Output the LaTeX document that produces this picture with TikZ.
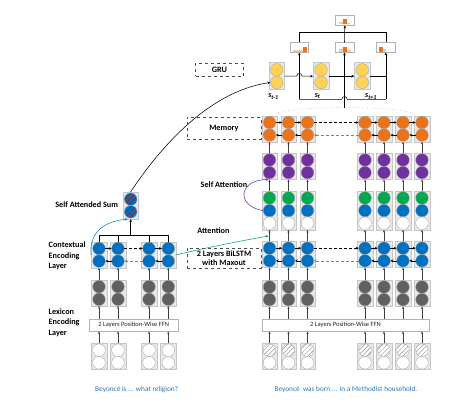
\documentclass[tikz,border=0pt]{standalone}
\usepackage{fontspec}
\setmainfont{Carlito}
\usetikzlibrary{arrows.meta,patterns.meta,positioning}

\definecolor{orng}{RGB}{235,115,25}
\definecolor{orngl}{RGB}{248,196,160}
\definecolor{purp}{RGB}{112,48,160}
\definecolor{grn}{RGB}{0,168,80}
\definecolor{blu}{RGB}{0,112,192}
\definecolor{dgry}{RGB}{96,96,96}
\definecolor{ylw}{RGB}{255,210,85}
\definecolor{txtblue}{RGB}{46,117,182}

\tikzset{
  cell/.style={circle, draw=gray!75, line width=0.3pt, minimum size=12.6pt, inner sep=0pt},
  frame/.style={draw=gray!45, fill=gray!18, line width=0.4pt, minimum width=15.6pt, inner sep=0pt},
  hatchg/.style={preaction={fill=white}, pattern={Lines[angle=45,distance=3.2pt,line width=0.45pt]}, pattern color=gray!85},
  hatchs/.style={preaction={fill=blu}, pattern={Lines[angle=45,distance=3.2pt,line width=0.5pt]}, pattern color=red!75!black},
  up/.style={-{Stealth[length=2.4pt,width=2.2pt]}, draw=gray!50!black, line width=0.45pt},
  link/.style={-{Stealth[length=2.8pt,width=2.6pt]}, line width=0.55pt},
  lbl/.style={font=\bfseries\fontsize{8.2}{10.3}\selectfont, align=left, inner sep=0pt},
  tag/.style={draw=gray!60!black, dashed, line width=0.5pt, font=\bfseries\fontsize{8.2}{9}\selectfont, align=center, inner sep=0pt},
  ffn/.style={draw=gray!60, fill=white, minimum height=12.4pt, inner sep=0pt, text=gray!25!black, font=\fontsize{6.5}{7}\selectfont},
  prob/.style={draw=gray!60, fill=white, line width=0.4pt, minimum width=18.6pt, minimum height=9.8pt, inner sep=0pt},
  qtext/.style={text=txtblue, font=\fontsize{7.3}{8}\selectfont, inner sep=0pt}
}

\begin{document}
\begin{tikzpicture}[x=1pt, y=-1pt]
\useasboundingbox (0,0) rectangle (451,406);

% position-wise FFN
\node[ffn, minimum width=167pt] (rffn) at (345.5,325.2) {2 Layers Position-Wise FFN};
\node[ffn, minimum width=89pt] (qffn) at (133.7,325.2) {2 Layers Position-Wise FFN};

% passage columns
\foreach \x [count=\i] in {269.5,288.5,307.5,365,384,403,422} {
  \node[frame, minimum height=26pt] (rin-\i) at (\x,356.5) {};
  \node[frame, minimum height=26pt] (rlex-\i) at (\x,293.3) {};
  \node[frame, minimum height=26pt] (rbil-\i) at (\x,254.5) {};
  \node[frame, minimum height=38.6pt] (ratt-\i) at (\x,210.6) {};
  \node[frame, minimum height=26pt] (rsat-\i) at (\x,166.3) {};
  \node[frame, minimum height=26pt] (rmem-\i) at (\x,128.8) {};
  \node[cell, hatchg] at (\x,350.2) {};
  \node[cell, fill=white] at (\x,362.8) {};
  \node[cell, fill=dgry] at (\x,287) {};
  \node[cell, fill=dgry] at (\x,299.6) {};
  \node[cell, fill=blu] (rbilt-\i) at (\x,248.2) {};
  \node[cell, fill=blu] (rbilb-\i) at (\x,260.8) {};
  \node[cell, fill=grn] at (\x,198) {};
  \node[cell, fill=blu] (rattb-\i) at (\x,210.6) {};
  \node[cell, fill=white] at (\x,223.2) {};
  \node[cell, fill=purp] at (\x,160) {};
  \node[cell, fill=purp] at (\x,172.6) {};
  \node[cell, fill=orng] (rmemt-\i) at (\x,122.5) {};
  \node[cell, fill=orng] (rmemb-\i) at (\x,135.1) {};
  \draw[up] (rin-\i) -- (rin-\i |- rffn.south);
  \draw[up] (rin-\i |- rffn.north) -- (rlex-\i);
  \draw[up] (rlex-\i) -- (rbil-\i);
  \draw[up] (rbil-\i) -- (ratt-\i);
  \draw[up] (ratt-\i) -- (rsat-\i);
  \draw[up] (rsat-\i) -- (rmem-\i);
}

% question columns
\foreach \x [count=\i] in {99,118,149,168.3} {
  \node[frame, minimum height=26pt] (qin-\i) at (\x,356.5) {};
  \node[frame, minimum height=26pt] (qlex-\i) at (\x,293) {};
  \node[frame, minimum height=26pt] (qctx-\i) at (\x,254.8) {};
  \node[cell, fill=white] at (\x,350.2) {};
  \node[cell, fill=white] at (\x,362.8) {};
  \node[cell, fill=dgry] at (\x,286.7) {};
  \node[cell, fill=dgry] at (\x,299.3) {};
  \node[cell, fill=blu] (qctxt-\i) at (\x,248.5) {};
  \node[cell, fill=blu] (qctxb-\i) at (\x,261.1) {};
  \draw[up] (qin-\i) -- (qin-\i |- qffn.south);
  \draw[up] (qin-\i |- qffn.north) -- (qlex-\i);
  \draw[up] (qlex-\i) -- (qctx-\i);
}

% BiLSTM / memory links
\foreach \a/\b in {1/2,2/3,4/5,5/6,6/7} {
  \draw[link] (rbilt-\a) -- (rbilt-\b);
  \draw[link] (rbilb-\b) -- (rbilb-\a);
  \draw[link] (rmemt-\a) -- (rmemt-\b);
  \draw[link] (rmemb-\b) -- (rmemb-\a);
}
\draw[link, dash pattern=on 3pt off 2pt] (rbilt-3) -- (rbilt-4);
\draw[link, dash pattern=on 3pt off 2pt, gray] (rbilb-4) -- (rbilb-3);
\draw[link, dash pattern=on 3pt off 2pt] (rmemt-3) -- (rmemt-4);
\draw[link, dash pattern=on 3pt off 2pt, gray] (rmemb-4) -- (rmemb-3);
\foreach \a/\b in {1/2,3/4} {
  \draw[link] (qctxt-\a) -- (qctxt-\b);
  \draw[link] (qctxb-\b) -- (qctxb-\a);
}
\draw[link, dash pattern=on 3pt off 2pt] (qctxt-2) -- (qctxt-3);
\draw[link, dash pattern=on 3pt off 2pt, gray] (qctxb-3) -- (qctxb-2);

% self attended sum
\node[frame, minimum height=27pt] (qsum) at (130.7,205.5) {};
\node[cell, hatchs] at (130.7,199.2) {};
\node[cell, hatchs] at (130.7,211.8) {};
\coordinate (hub) at (130.7,235);
\draw[line width=0.55pt] (qctx-1.north) -- (qctx-1.north |- hub) -- (qctx-4.north |- hub) -- (qctx-4.north);
\foreach \i in {2,3} \draw[line width=0.55pt] (qctx-\i.north) -- (qctx-\i.north |- hub);
\draw[link] (hub) -- (qsum);

% GRU states
\foreach \x [count=\i] in {276.7,321,362.3} {
  \node[frame, minimum height=27pt] (gru-\i) at (\x,76.2) {};
  \node[cell, fill=ylw] (gyt-\i) at (\x,69.9) {};
  \node[cell, fill=ylw] (gyb-\i) at (\x,82.5) {};
}
\node[font=\bfseries\itshape\fontsize{8}{9}\selectfont] at (273.5,96.5) {s\textsubscript{t-1}};
\node[font=\bfseries\itshape\fontsize{8}{9}\selectfont] at (317.7,96.5) {s\textsubscript{t}};
\node[font=\bfseries\itshape\fontsize{8}{9}\selectfont] at (371,96.5) {s\textsubscript{t+1}};

% answer distributions
\node[prob] (p1) at (299.3,47.5) {};
\node[prob] (p2) at (344.5,47.5) {};
\node[prob] (p3) at (385.8,47.5) {};
\node[prob] (pt) at (344.8,20.3) {};
\fill[orngl] ([xshift=3pt,yshift=1pt]p1.south west) rectangle ++(10,-1.8);
\fill[orng] ([xshift=13pt,yshift=1pt]p1.south west) rectangle ++(4,-4.5);
\fill[orngl] ([xshift=4pt,yshift=1pt]p2.south west) rectangle ++(3.5,-3);
\fill[orng] ([xshift=7.5pt,yshift=1pt]p2.south west) rectangle ++(4.5,-5);
\fill[orngl] ([xshift=12pt,yshift=1pt]p2.south west) rectangle ++(4,-2);
\fill[orng] ([xshift=3pt,yshift=1pt]p3.south west) rectangle ++(3.5,-5);
\fill[orngl] ([xshift=6.5pt,yshift=1pt]p3.south west) rectangle ++(3.5,-2.2);
\fill[orngl] ([xshift=4pt,yshift=1pt]pt.south west) rectangle ++(3.5,-2.5);
\fill[orng] ([xshift=7.5pt,yshift=1pt]pt.south west) rectangle ++(4.5,-5.5);
\fill[orngl] ([xshift=12pt,yshift=1pt]pt.south west) rectangle ++(3,-1.2);

% answer module wiring
\coordinate (bl) at (299.3,99.3);
\coordinate (br) at (385.8,99.3);
\coordinate (hopb) at (344.5,99.3);
\coordinate (hopg) at (299.3,76.2);
\coordinate (mtop) at (344.5,107.6);
\draw[gray!70, dotted, line width=0.55pt] (276,114) .. controls (284,105.5) and (405,105.5) .. (413,114);
\draw[link] (mtop) -- (p2.south);
\draw[line width=0.55pt] (bl) -- ([xshift=-2.7pt]hopb) .. controls +(0,-3.6) and +(0,-3.6) .. ([xshift=2.7pt]hopb) -- (br);
\draw[link] (bl) -- (p1.south);
\draw[link] (br) -- (p3.south);
\draw[link] (gru-1.east) -- ([xshift=-2.7pt]hopg) .. controls +(0,-3.6) and +(0,-3.6) .. ([xshift=2.7pt]hopg) -- (gru-2.west);
\draw[link] (gru-2) -- (gru-3);
\draw[line width=0.55pt] (gru-3) -- (gru-3 -| br);
\draw[line width=0.55pt] (p1.north) -- ++(0,-10) -| (p3.north);
\draw[link] (p2.north) -- (pt.south);

% attention arrows
\coordinate (attin) at (268.6,236);
\draw[link] (qsum.north) .. controls (155,155) and (205,92) .. (gyb-1.west);
\draw[link, blu!85!cyan] (qctx-1.west) .. controls (89,232) and (105,221) .. ([xshift=-3pt]qsum.south);
\draw[link, grn] (qctx-4.east) .. controls (205,248) and (240,241) .. (attin);
\draw[link, purp] (rattb-1.west) .. controls (236,206) and (238,180) .. ([xshift=-1pt]rsat-1.south);

% labels
\node[tag, minimum width=47.6pt, minimum height=12.7pt] (grutag) at (219.5,69.7) {GRU};
\node[tag, minimum width=73.7pt, minimum height=22pt] (memtag) at (223.9,128) {Memory};
\node[tag, minimum width=74pt, minimum height=20pt] (biltag) at (224,258) {2 Layers BiLSTM\\with Maxout};
\node[lbl] (sumlbl) at (86.7,205) {Self Attended Sum};
\node[lbl, anchor=west] (ctxlbl) at (48.5,256) {Contextual\\Encoding\\Layer};
\node[lbl, anchor=west] (lexlbl) at (48.5,322.6) {Lexicon\\Encoding\\Layer};
\node[lbl] (satlbl) at (224,184.3) {Self Attention};
\node[lbl] (attlbl) at (213.5,231) {Attention};
\node[qtext] (qtxt) at (136.7,389.3) {Beyoncé is ... what religion?};
\node[qtext] (ptxt) at (346,389.3) {Beyoncé\ \ was born ... in a Methodist household.};
\end{tikzpicture}
\end{document}
